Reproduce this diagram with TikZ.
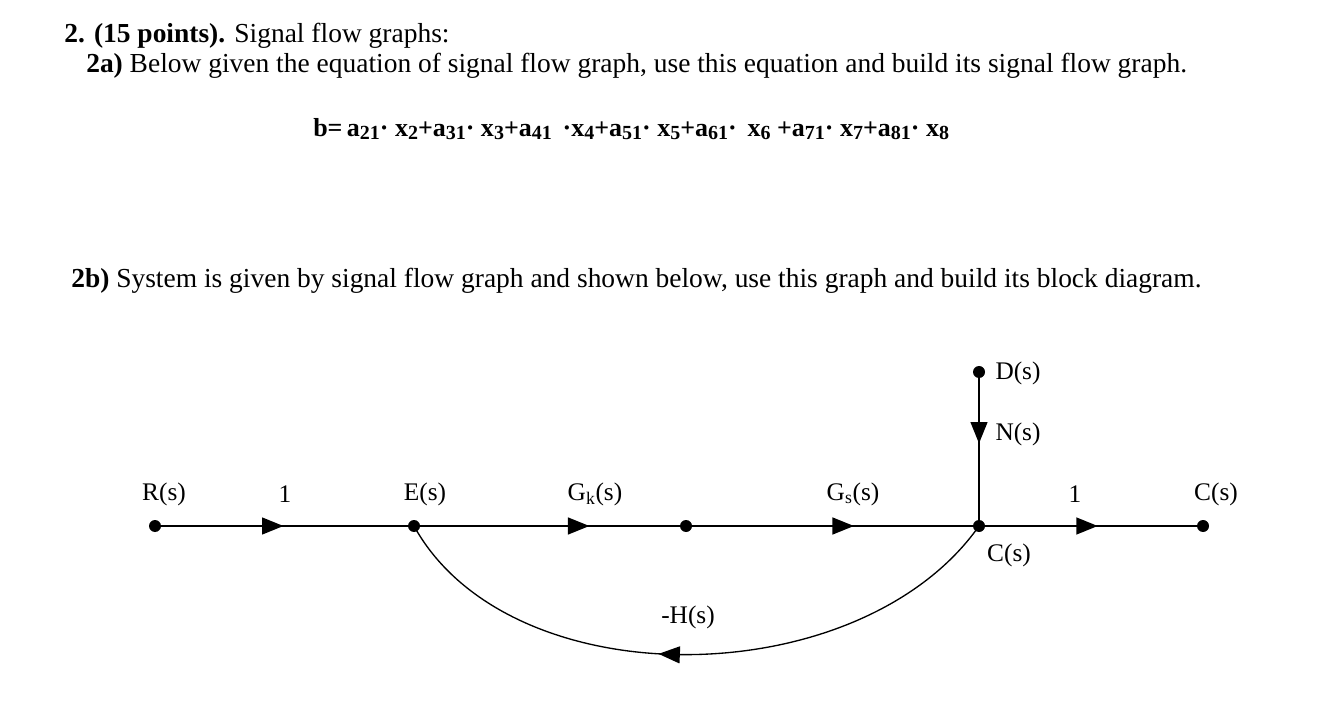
\documentclass[tikz,border=0pt]{standalone}
\usepackage{fontspec}
\setmainfont{Liberation Serif}
\usetikzlibrary{decorations.markings}
\newcommand{\lsub}[1]{\raisebox{-0.25ex}{\fontsize{15}{15}\selectfont #1}}
\begin{document}
\begin{tikzpicture}[x=0.75pt,y=-0.75pt,
  dot/.style={circle,fill,inner sep=0pt,minimum size=9pt},
  txt/.style={anchor=west,inner sep=0pt,font=\fontsize{20.6}{24}\selectfont},
  lbl/.style={inner sep=0pt,font=\fontsize{19}{22}\selectfont},
  tri/.style={postaction={decorate},decoration={markings,mark=at position #1 with {\fill (5pt,0)--(-11pt,6.5pt)--(-11pt,-6.5pt)--cycle;}}},
  edge/.style={line width=1pt}]
\useasboundingbox (0,0) rectangle (1320,705);
\node[txt] (t1) at (64,36) {\textbf{2. (15 points).} Signal flow graphs:};
\node[txt] (t2) at (86,66) {\textbf{2a)} Below given the equation of signal flow graph, use this equation and build its signal flow graph.};
\node[txt,font=\fontsize{19.5}{24}\selectfont] (eq) at (313,129) {\textbf{b=\,a\lsub{21}· x\lsub{2}+a\lsub{31}· x\lsub{3}+a\lsub{41} \,·x\lsub{4}+a\lsub{51}· x\lsub{5}+a\lsub{61}·\, x\lsub{6} +a\lsub{71}· x\lsub{7}+a\lsub{81}· x\lsub{8}}};
\node[txt] (t3) at (71,281) {\textbf{2b)} System is given by signal flow graph and shown below, use this graph and build its block diagram.};
\node[dot] (R) at (155,526) {};
\node[dot] (E) at (414,526) {};
\node[dot] (M) at (686,526) {};
\node[dot] (C) at (979,526) {};
\node[dot] (Co) at (1203,526) {};
\node[dot] (D) at (979,372) {};
\draw[edge,tri=0.47] (R.center) -- (E.center);
\draw[edge,tri=0.62] (E.center) -- (M.center);
\draw[edge,tri=0.55] (M.center) -- (C.center);
\draw[edge,tri=0.5] (C.center) -- (Co.center);
\draw[edge,tri=0.42] (D.center) -- (C.center);
\draw[edge,tri=0.545] (C.center) .. controls (860,695) and (510,700) .. (E.center);
\node[lbl] at (164,494) {R(s)};
\node[lbl] at (285,494) {1};
\node[lbl] at (425,494) {E(s)};
\node[lbl] at (595,494) {G\textsubscript{k}(s)};
\node[lbl] at (853,494) {G\textsubscript{s}(s)};
\node[lbl] at (1075,494) {1};
\node[lbl] at (1216,494) {C(s)};
\node[lbl] at (1018,373) {D(s)};
\node[lbl] at (1018,434) {N(s)};
\node[lbl] at (1009,555) {C(s)};
\node[lbl] at (688,617) {-H(s)};
\end{tikzpicture}
\end{document}
